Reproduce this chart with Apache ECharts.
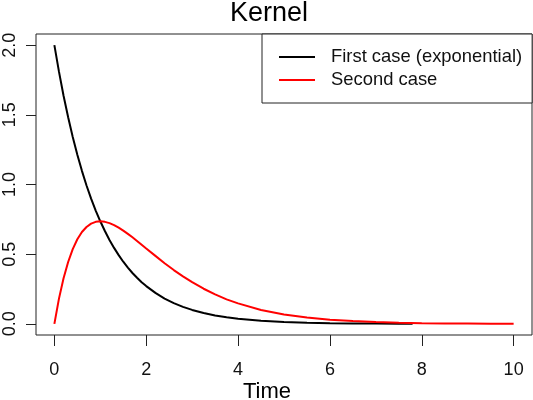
<!DOCTYPE html>
<html>
<head>
<meta charset="utf-8">
<script src="https://cdn.jsdelivr.net/npm/echarts@6/dist/echarts.min.js"></script>
<style>
html,body{margin:0;padding:0;background:#fff;}
#chart{width:533px;height:400px;}
</style>
</head>
<body>
<div id="chart"></div>
<script>
// Values
const timeFirst = [0,0.1,0.2,0.3,0.4,0.5,0.6,0.7,0.8,0.9,1.0,1.1,1.2,1.3,1.4,1.5,1.6,1.7,1.8,1.9,2.0,2.2,2.4,2.6,2.8,3.0,3.25,3.5,3.75,4.0,4.5,5.0,5.5,6.0,6.5,7.0,7.5,7.8];
const firstCase = [2.000,1.810,1.637,1.482,1.341,1.213,1.098,0.993,0.899,0.813,0.736,0.666,0.602,0.545,0.493,0.446,0.404,0.365,0.331,0.299,0.271,0.222,0.181,0.149,0.122,0.100,0.078,0.060,0.047,0.037,0.022,0.013,0.008,0.005,0.003,0.002,0.001,0.001];
const timeSecond = [0,0.1,0.2,0.3,0.4,0.5,0.6,0.7,0.8,0.9,1.0,1.1,1.2,1.3,1.4,1.5,1.6,1.7,1.8,1.9,2.0,2.2,2.4,2.6,2.8,3.0,3.25,3.5,3.75,4.0,4.5,5.0,5.5,6.0,6.5,7.0,7.5,8.0,8.5,9.0,9.5,10.0];
const secondCase = [0,0.181,0.327,0.444,0.536,0.607,0.659,0.695,0.719,0.732,0.736,0.732,0.723,0.709,0.690,0.669,0.646,0.621,0.595,0.568,0.541,0.488,0.435,0.386,0.341,0.299,0.252,0.211,0.176,0.147,0.100,0.067,0.045,0.030,0.020,0.013,0.008,0.005,0.003,0.002,0.001,0.001];
const xTicks = [0,2,4,6,8,10];
const yTicks = [0,0.5,1.0,1.5,2.0];
const seriesNames = ['First case (exponential)','Second case'];

const FONT = 'Liberation Sans, Arial, sans-serif';
const chart = echarts.init(document.getElementById('chart'), null, {renderer:'canvas'});
chart.setOption({
  animation:false,
  backgroundColor:'#fff',
  title:{
    text:'Kernel', left:230, top:0, padding:0,
    textStyle:{fontFamily:FONT,fontSize:27,fontWeight:'normal',color:'#000'}
  },
  legend:{
    orient:'vertical', left:262, top:34,
    padding:[14,10,14,17],
    itemWidth:36, itemHeight:18, itemGap:5,
    icon:'path://M0,0L36,0L36,2L0,2Z',
    borderColor:'#222', borderWidth:1, borderRadius:0,
    backgroundColor:'#fff',
    formatter:function(n){return '{t|'+n+'}';},
    textStyle:{
      fontFamily:FONT,fontSize:18.4,color:'#111',
      rich:{t:{fontFamily:FONT,fontSize:18.4,color:'#111',padding:[0,0,0,11]}}
    },
    data:seriesNames
  },
  grid:{left:36,top:34,right:1,bottom:65,containLabel:false,outerBoundsMode:'none',
    show:true,borderColor:'#222',borderWidth:1,backgroundColor:'transparent'},
  xAxis:{
    type:'value', min:-0.4, max:10.4,
    name:'Time', nameLocation:'middle', nameGap:46, nameMoveOverlap:false,
    nameTextStyle:{fontFamily:FONT,fontSize:22,color:'#000',padding:[0,34,0,0]},
    axisLine:{show:false,onZero:false},
    splitLine:{show:false},
    axisTick:{show:true,length:11,inside:false,customValues:xTicks,lineStyle:{color:'#222',width:1}},
    axisLabel:{show:true,margin:26,customValues:xTicks,fontFamily:FONT,fontSize:18,color:'#111',
      formatter:function(v){return String(v);}}
  },
  yAxis:{
    type:'value', min:-0.08, max:2.08,
    axisLine:{show:false,onZero:false},
    splitLine:{show:false},
    axisTick:{show:true,length:10,inside:false,customValues:yTicks,lineStyle:{color:'#222',width:1}},
    axisLabel:{show:true,margin:17,rotate:90,customValues:yTicks,fontFamily:FONT,fontSize:18,color:'#111',
      formatter:function(v){return Number(v).toFixed(1);}}
  },
  series:[
    {
      name:seriesNames[0], type:'line', symbol:'none', smooth:false,
      lineStyle:{color:'#000',width:2}, itemStyle:{color:'#000'},
      data:timeFirst.map(function(t,i){return [t,firstCase[i]];}),
      z:2
    },
    {
      name:seriesNames[1], type:'line', symbol:'none', smooth:false,
      lineStyle:{color:'#ff0000',width:2}, itemStyle:{color:'#ff0000'},
      data:timeSecond.map(function(t,i){return [t,secondCase[i]];}),
      z:3
    }
  ]
});
</script>
</body>
</html>
